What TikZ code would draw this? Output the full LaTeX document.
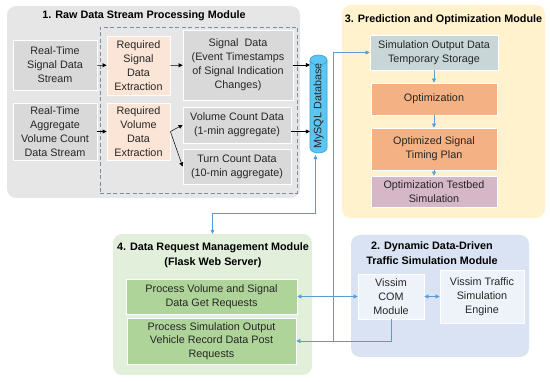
\documentclass[tikz,border=0pt]{standalone}
\usepackage{fontspec}
\setmainfont{Liberation Sans}
\usepackage{xcolor}
\usetikzlibrary{arrows.meta,positioning}

\definecolor{modgray}{HTML}{E7E6E6}
\definecolor{boxgray}{HTML}{D9D9D9}
\definecolor{peach}{HTML}{FBE5D6}
\definecolor{modyellow}{HTML}{FFF2CC}
\definecolor{storegray}{HTML}{C8D6D7}
\definecolor{optorange}{HTML}{F4B183}
\definecolor{mauve}{HTML}{D5B7C7}
\definecolor{modgreen}{HTML}{E2EFDA}
\definecolor{boxgreen}{HTML}{AFD49A}
\definecolor{modblue}{HTML}{DAE3F3}
\definecolor{boxblue}{HTML}{EEF2F9}
\definecolor{dbcyan}{HTML}{5CC6F2}
\definecolor{dbedge}{HTML}{3A9FD3}
\definecolor{linkblue}{HTML}{5B9BD5}
\definecolor{dashblue}{HTML}{7F8DA3}
\definecolor{textgray}{HTML}{262626}

\begin{document}
\begin{tikzpicture}[
    x=1pt, y=-1pt,
    module/.style={rectangle, rounded corners=9pt, inner sep=0pt},
    block/.style={rectangle, draw=white, line width=0.8pt, inner sep=1pt, align=center, font=\fontsize{10.8}{14}\selectfont, text=textgray},
    modtitle/.style={font=\fontsize{10.8}{15}\selectfont\bfseries, align=center, text=black},
    arrow/.style={-{Triangle[length=4pt, width=4pt]}, line width=0.5pt},
    bluearrow/.style={-{Triangle[length=4pt, width=4pt]}, line width=0.7pt, draw=linkblue},
    bluedbl/.style={{Triangle[length=4pt, width=4pt]}-{Triangle[length=4pt, width=4pt]}, line width=0.7pt, draw=linkblue},
    dblabel/.style={rotate=90, inner sep=0pt, font=\fontsize{10.8}{12}\selectfont, text=textgray},
]
\useasboundingbox (0,0) rectangle (550,382);

% === MODULE 1 ===
\node[module, fill=modgray, minimum width=293pt, minimum height=192pt] (mod1) at (153.5,102) {};
\node[modtitle] (title1) at (144,15.5) {1. Raw Data Stream Processing Module};
\node[draw=dashblue, dash pattern=on 4pt off 2.5pt, line width=0.8pt, minimum width=197pt, minimum height=166pt] (extract) at (198.5,110) {};

\node[block, fill=boxgray, minimum width=84pt, minimum height=50pt] (sigstream) at (55,65) {Real-Time\\Signal Data\\Stream};
\node[block, fill=boxgray, minimum width=84pt, minimum height=57pt] (volstream) at (55,131.5) {Real-Time\\Aggregate\\Volume Count\\Data Stream};
\node[block, fill=peach, minimum width=63pt, minimum height=59pt] (sigext) at (138.5,65.5) {Required\\Signal\\Data\\Extraction};
\node[block, fill=peach, minimum width=63pt, minimum height=57pt] (volext) at (138.5,131.5) {Required\\Volume\\Data\\Extraction};
\node[block, fill=boxgray, minimum width=110pt, minimum height=70pt] (sigdata) at (238,65) {Signal\ \ Data\\(Event Timestamps\\of Signal Indication\\Changes)};
\node[block, fill=boxgray, minimum width=108pt, minimum height=36pt] (voldata) at (237,125) {Volume Count Data\\(1-min aggregate)};
\node[block, fill=boxgray, minimum width=108pt, minimum height=35pt] (turndata) at (237,166.5) {Turn Count Data\\(10-min aggregate)};

% database cylinder
\fill[dbcyan] (310,148) arc[start angle=180, end angle=360, x radius=8.5pt, y radius=5pt]
    -- (327,60) arc[start angle=0, end angle=180, x radius=8.5pt, y radius=5pt] -- cycle;
\draw[dbedge, line width=0.6pt] (318.5,60) ellipse [x radius=8.5pt, y radius=5pt];
\draw[dbedge, line width=0.6pt] (327,60) -- (327,148) arc[start angle=0, end angle=-180, x radius=8.5pt, y radius=5pt] -- (310,60);
\node[dblabel, minimum width=98pt, minimum height=17pt] (db) at (318.5,106) {MySQL Database};

\draw[arrow] (sigstream) -- (sigext);
\draw[arrow] (volstream) -- (volext);
\draw[arrow] (sigext) -- (sigdata);
\draw[arrow] (volext.east) -- (voldata.west);
\draw[arrow] (volext.east) -- (turndata.west);
\draw[arrow] (sigdata.east) -- (sigdata.east -| db.north);
\draw[arrow] (volstream.east -| voldata.east) -- (volstream.east -| db.north);

% === MODULE 3 ===
\node[module, fill=modyellow, minimum width=203pt, minimum height=213pt] (mod3) at (443.5,111.5) {};
\node[modtitle] (title3) at (443.5,20) {3. Prediction and Optimization Module};
\node[block, fill=storegray, minimum width=128pt, minimum height=35pt] (storage) at (434,52.5) {Simulation Output Data\\Temporary Storage};
\node[block, fill=optorange, minimum width=126pt, minimum height=32pt] (optim) at (434,99) {Optimization};
\node[block, fill=optorange, minimum width=126pt, minimum height=42pt] (plan) at (434,149) {Optimized Signal\\Timing Plan};
\node[block, fill=mauve, minimum width=126pt, minimum height=31pt] (testbed) at (434,191.5) {Optimization Testbed\\Simulation};

\draw[bluearrow] (storage) -- (optim);
\draw[bluearrow] (optim) -- (plan);
\draw[bluearrow] (plan) -- (testbed);

% === MODULE 4 ===
\node[module, fill=modgreen, minimum width=199pt, minimum height=141pt] (mod4) at (212.5,304.5) {};
\node[modtitle] (title4) at (213,255) {4. Data Request Management Module\\(Flask Web Server)};
\node[block, fill=boxgreen, minimum width=171pt, minimum height=35pt] (getreq) at (211.5,296.5) {Process Volume and Signal\\Data Get Requests};
\node[block, fill=boxgreen, minimum width=169pt, minimum height=46pt, font=\fontsize{10.8}{13.5}\selectfont] (postreq) at (211.5,341) {Process Simulation Output\\Vehicle Record Data Post\\Requests};

% === MODULE 2 ===
\node[module, fill=modblue, minimum width=178pt, minimum height=122pt] (mod2) at (440,296) {};
\node[modtitle] (title2) at (432,253) {2. Dynamic Data-Driven\\Traffic Simulation Module};
\node[block, fill=boxblue, minimum width=66pt, minimum height=45pt] (com) at (391,296.5) {Vissim\\COM\\Module};
\node[block, fill=boxblue, minimum width=84pt, minimum height=53pt] (engine) at (482,296.5) {Vissim Traffic\\Simulation\\Engine};

% === CONNECTORS ===
\coordinate (junc) at (333,341);
\draw[bluedbl] ([xshift=-3pt]db.west) -- ++(0,58) -| (mod4.north);
\draw[bluedbl] (getreq.east) -- (com.west);
\draw[bluedbl] (com.east) -- (engine.west);
\draw[bluearrow] (com.south) |- (postreq.east);
\draw[bluearrow] (junc) |- (storage.west);

\end{tikzpicture}
\end{document}
